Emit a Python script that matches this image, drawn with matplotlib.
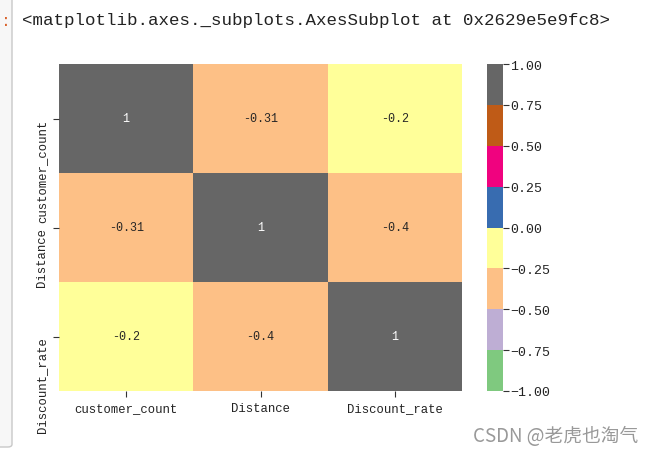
import matplotlib
matplotlib.use('Agg')
import matplotlib.pyplot as plt
from matplotlib.patches import FancyBboxPatch
import numpy as np
import seaborn as sns

labels = ['customer_count', 'Distance', 'Discount_rate']
corr_row_customer = [1, -0.31, -0.2]
corr_row_distance = [-0.31, 1, -0.4]
corr_row_discount = [-0.2, -0.4, 1]
cbar_ticks = [-1.0, -0.75, -0.5, -0.25, 0.0, 0.25, 0.5, 0.75, 1.0]
header = '<matplotlib.axes._subplots.AxesSubplot at 0x2629e5e9fc8>'

W, H = 659, 456
fig = plt.figure(figsize=(W / 100, H / 100), dpi=100)
plt.rcParams['font.family'] = ['Liberation Mono', 'DejaVu Sans']


# pixel box (top-left origin) to figure fractions
def box(x0, y0, x1, y1):
    return [x0 / W, 1 - y1 / H, (x1 - x0) / W, (y1 - y0) / H]


ax = fig.add_axes(box(59, 65, 462, 392))
cax = fig.add_axes(box(487, 65, 503, 392))

data = np.array([corr_row_customer, corr_row_distance, corr_row_discount])
sns.heatmap(data, vmin=-1, vmax=1, cmap='Accent', annot=True, ax=ax, cbar_ax=cax,
            annot_kws={'fontsize': 8.5, 'family': 'Liberation Mono'})

ax.set_xticklabels(labels, rotation=0, fontsize=8.8, family='Liberation Mono', color='#222222')
ax.set_yticklabels(labels, rotation=90, va='top', fontsize=8.8, family='Liberation Mono', color='#222222')
ax.tick_params(length=4, width=0.8, color='#333333', pad=4)

cax.set_yticks(cbar_ticks)
cax.set_yticklabels([f'{t:.2f}'.replace('-', '\u2212') for t in cbar_ticks],
                    fontsize=9.5, family='Liberation Mono', color='#222222')
cax.tick_params(length=4, width=0.8, color='#333333', pad=1)

# notebook output text and frame around the plot
fig.text(22 / W, 1 - 21 / H, header, fontsize=12.6, family='Liberation Mono',
         color='#222222', va='center', ha='left')
fig.text(1 / W, 1 - 21 / H, ':', fontsize=12, family='Liberation Mono',
         color='#d9622b', va='center', ha='left')
fig.add_artist(FancyBboxPatch((-20 / W, 1 - 448 / H), 32 / W, 1.2,
                              boxstyle='round,pad=0,rounding_size=0.006',
                              transform=fig.transFigure, facecolor='#f7f7f7',
                              edgecolor='#c8c8c8', linewidth=1))

# watermark
fig.text(638 / W, 1 - 437 / H, 'CSDN @老虎也淘气', fontsize=13.5, color='#999999',
         family=['Noto Sans CJK SC', 'DejaVu Sans'], va='center', ha='right')

fig.savefig('out.png', dpi=100)
plt.close(fig)
